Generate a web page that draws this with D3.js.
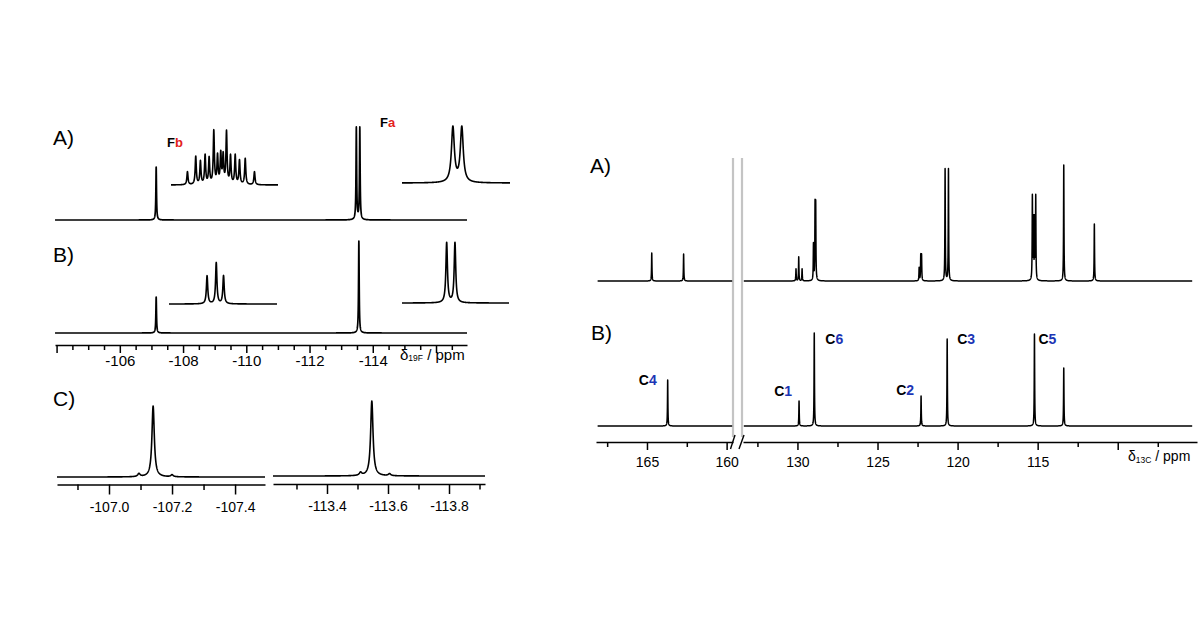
<!DOCTYPE html>
<html><head><meta charset="utf-8">
<script src="https://cdn.jsdelivr.net/npm/d3@7"></script>
<style>html,body{margin:0;padding:0;background:#fff}svg{display:block}</style>
</head><body><svg id="c" width="1200" height="630"></svg>
<script>
// ================= DATA =================
// --- 19F spectra (ppm, intensity a.u.) ---
const fA_ppm = [-107.15, -113.48, -113.59];
const fA_int = [53, 92, 92];
const fB_ppm = [-107.15, -113.56];
const fB_int = [36, 92];
const fMajorTicks = [-104, -106, -108, -110, -112, -114, -116];
const fMajorLabels = ["", "-106", "-108", "-110", "-112", "-114", ""];
const fMinorTicks = [-104.5, -105, -105.5, -106.5, -107, -107.5, -108.5, -109, -109.5, -110.5, -111, -111.5, -112.5, -113, -113.5, -114.5, -115, -115.5, -116.5];

// --- insets (offset in Hz, intensity a.u.) ---
const insFbA_hz  = [-24.7, -18.5, -15, -11.5, -8.5, -5, -2.2, 0.2, 2, 4.5, 7.5, 11, 14.2, 18.5, 25.4];
const insFbA_int = [13, 28, 23, 29, 26, 53, 28, 30, 28, 52, 28, 29, 24, 26, 13];
const insFaA_hz  = [-3.3, 3.3];
const insFaA_int = [55, 55];
const insFbB_hz  = [-6.8, 0, 5.4];
const insFbB_int = [28, 41, 28];
const insFaB_hz  = [-3.1, 3.1];
const insFaB_int = [60, 60];

// --- panel C (high resolution, ppm) ---
const cL_ppm = [-107.14, -107.095, -107.20];
const cL_int = [71, 3, 2];
const cR_ppm = [-113.547, -113.51, -113.605];
const cR_int = [75, 3, 2];
const cL_major = [-107.0, -107.2, -107.4];
const cL_labels = ["-107.0", "-107.2", "-107.4"];
const cL_minor = [-106.9, -107.1, -107.3];
const cR_major = [-113.4, -113.6, -113.8];
const cR_labels = ["-113.4", "-113.6", "-113.8"];
const cR_minor = [-113.3, -113.5, -113.7, -113.9];

// --- 13C spectra (ppm, intensity a.u.) ---
const cA_ppm = [164.7, 162.7, 130.09, 129.92, 129.71, 129.0, 128.9, 128.86, 122.4, 122.3, 122.25, 120.78, 120.57, 115.33, 115.26, 115.19, 115.12, 113.37, 111.46];
const cA_int = [28, 27, 12, 24, 12, 36, 72, 72, 13, 25, 25, 112, 112, 83, 59, 59, 83, 116, 57];
const cB_ppm = [163.7, 129.9, 128.95, 122.28, 120.65, 115.2, 113.37];
const cB_int = [46, 25, 93, 30, 87, 92, 58];
const cBLabelC   = ["C", "C", "C", "C", "C", "C"];
const cBLabelNum = ["4", "1", "6", "2", "3", "5"];
const cBLabelPeak = [163.7, 129.9, 128.95, 122.28, 120.65, 115.2];
const s1Major = [165, 160];
const s1Labels = ["165", "160"];
const s1Minor = [167.5, 162.5];
const s2Major = [130, 125, 120, 115, 110];
const s2Labels = ["130", "125", "120", "115", ""];
const s2Minor = [132.5, 127.5, 122.5, 117.5, 112.5, 107.5];
const panelLabels = ["A)", "B)", "C)"];

// ================= DRAWING =================
const FONT = "'Liberation Sans', Arial, Helvetica, sans-serif";
const RED = "#e3211c", BLUE = "#1c35b5";
const svg = d3.select("#c");
svg.append("rect").attr("width", 1200).attr("height", 630).attr("fill", "#fff");

function lor(x, x0, w) { const t = (x - x0) / w; return 1 / (1 + t * t); }
function pts(peaks, ints, w, lo, hi, step) {
  const xs = d3.range(lo, hi + step / 2, step);
  peaks.forEach(p => [-3, -2, -1, -0.5, -0.2, 0, 0.2, 0.5, 1, 2, 3].forEach(k => {
    const v = p + k * w; if (v >= lo && v <= hi) xs.push(v);
  }));
  xs.sort((a, b) => a - b);
  return xs.map(x => [x, d3.sum(peaks, (p, i) => ints[i] * lor(x, p, w))]);
}
function drawSpec(data, x, y, sw) {
  svg.append("path").datum(data)
    .attr("d", d3.line().x(d => x(d[0])).y(d => y(d[1])))
    .attr("fill", "none").attr("stroke", "#000").attr("stroke-width", sw)
    .attr("stroke-linejoin", "round");
}
function yS(base) { return d3.scaleLinear().domain([0, 100]).range([base, base - 100]); }
function axis(x, ty, majors, labels, minors, majLen, minLen, pad, fs, sw) {
  const g = svg.append("g").attr("transform", `translate(0,${ty})`)
    .call(d3.axisBottom(x).tickValues(majors).tickFormat((d, i) => labels[i])
      .tickSize(majLen).tickSizeOuter(0).tickPadding(pad));
  g.selectAll("text").attr("font-size", fs).attr("font-family", FONT).attr("fill", "#000");
  g.selectAll("line,path").attr("stroke", "#000").attr("stroke-width", sw);
  const m = svg.append("g").attr("transform", `translate(0,${ty})`)
    .call(d3.axisBottom(x).tickValues(minors).tickFormat("").tickSize(minLen).tickSizeOuter(0));
  m.select(".domain").remove();
  m.selectAll("line").attr("stroke", "#000").attr("stroke-width", sw);
}
function txt(x, y, s, fs, opts = {}) {
  return svg.append("text").attr("x", x).attr("y", y).text(s)
    .attr("font-family", FONT).attr("font-size", fs)
    .attr("font-weight", opts.bold ? "bold" : "normal")
    .attr("fill", opts.fill || "#000").attr("text-anchor", opts.anchor || "start");
}
function twoTone(x, y, a, b, colB, fs, anchor) {
  const t = svg.append("text").attr("x", x).attr("y", y)
    .attr("font-family", FONT).attr("font-size", fs).attr("font-weight", "bold")
    .attr("text-anchor", anchor || "start");
  t.append("tspan").text(a).attr("fill", "#000");
  t.append("tspan").text(b).attr("fill", colB);
}

// ---------- LEFT: 19F ----------
const xF = d3.scaleLinear().domain([-103.95, -116.98]).range([55, 467]);
const fLo = -116.98, fHi = -103.95;
drawSpec(pts(fA_ppm, fA_int, 0.012, fLo, fHi, 0.003), xF, yS(220), 1.7);
drawSpec(pts(fB_ppm, fB_int, 0.012, fLo, fHi, 0.003), xF, yS(333), 1.7);
axis(xF, 345, fMajorTicks, fMajorLabels, fMinorTicks, 8, 5, 2.4, 15, 1.5);
{
  const t = svg.append("text").attr("x", 400).attr("y", 359.5).attr("font-family", FONT).attr("font-size", 15).attr("fill", "#000");
  t.append("tspan").text("δ");
  t.append("tspan").text("19F").attr("font-size", 8.5).attr("dy", 1.5);
  t.append("tspan").text(" / ppm").attr("dy", -1.5);
}

// insets
const xFbA = d3.scaleLinear().domain([-37, 43]).range([171, 278]);
drawSpec(pts(insFbA_hz, insFbA_int, 0.5, -37, 43, 0.04), xFbA, yS(185), 1.6);
const xFaA = d3.scaleLinear().domain([-41, 39]).range([402, 510]);
drawSpec(pts(insFaA_hz, insFaA_int, 1.3, -41, 39, 0.04), xFaA, yS(183), 1.6);
const xFbB = d3.scaleLinear().domain([-35, 45]).range([169, 277]);
drawSpec(pts(insFbB_hz, insFbB_int, 0.6, -35, 45, 0.04), xFbB, yS(304), 1.6);
const xFaB = d3.scaleLinear().domain([-36.5, 43.5]).range([402, 509]);
drawSpec(pts(insFaB_hz, insFaB_int, 0.7, -36.5, 43.5, 0.04), xFaB, yS(303), 1.6);

twoTone(167, 147, "F", "b", RED, 13);
twoTone(380, 127, "F", "a", RED, 13);

txt(53, 145, panelLabels[0], 21);
txt(53, 262, panelLabels[1], 21);
txt(53, 406, panelLabels[2], 21);

// panel C
const xCL = d3.scaleLinear().domain([-106.835, -107.495]).range([57, 265]);
drawSpec(pts(cL_ppm, cL_int, 0.0045, -107.495, -106.835, 0.0005), xCL, yS(477), 1.6);
axis(xCL, 484.5, cL_major, cL_labels, cL_minor, 10, 5.5, 7.5, 14, 1.5);
const xCR = d3.scaleLinear().domain([-113.223, -113.918]).range([273, 485]);
drawSpec(pts(cR_ppm, cR_int, 0.0047, -113.918, -113.223, 0.0005), xCR, yS(476), 1.6);
axis(xCR, 484, cR_major, cR_labels, cR_minor, 10, 5.5, 7.5, 14, 1.5);

// ---------- RIGHT: 13C ----------
const xS1 = d3.scaleLinear().domain([168.2, 159.6]).range([596, 733]);
const xS2 = d3.scaleLinear().domain([133.4, 105.05]).range([743, 1197]);

// gray break lines
[xS1.range()[1], xS2.range()[0] - 1].forEach(gx => {
  svg.append("line").attr("x1", gx).attr("x2", gx).attr("y1", 158).attr("y2", 437)
    .attr("stroke", "#c4c4c4").attr("stroke-width", 2.2);
});

const yRA = yS(281), yRB = yS(426);
drawSpec(pts(cA_ppm, cA_int, 0.015, 159.65, 168.1, 0.004), xS1, yRA, 1.5);
drawSpec(pts(cA_ppm, cA_int, 0.015, 105.35, 133.35, 0.004), xS2, yRA, 1.5);
drawSpec(pts(cB_ppm, cB_int, 0.015, 159.65, 168.1, 0.004), xS1, yRB, 1.5);
drawSpec(pts(cB_ppm, cB_int, 0.015, 105.35, 133.35, 0.004), xS2, yRB, 1.5);

axis(xS1, 442, s1Major, s1Labels, s1Minor, 8, 5, 7.4, 14, 1.5);
axis(xS2, 442, s2Major, s2Labels, s2Minor, 8, 5, 7.4, 14, 1.5);
// break marks
[[730.5, 735], [739, 744]].forEach(([a, b]) => {
  svg.append("line").attr("x1", a).attr("y1", 449).attr("x2", b).attr("y2", 435)
    .attr("stroke", "#000").attr("stroke-width", 1.4);
});

{
  const t = svg.append("text").attr("x", 1128).attr("y", 461).attr("font-family", FONT).attr("font-size", 14).attr("fill", "#000");
  t.append("tspan").text("δ");
  t.append("tspan").text("13C").attr("font-size", 8.5).attr("dy", 1.5);
  t.append("tspan").text(" / ppm").attr("dy", -1.5);
}

txt(590, 173, panelLabels[0], 21);
txt(591, 340, panelLabels[1], 21);

// peak assignment labels (layout: side, dx, baseline y)
const labLayout = [
  { anchor: "end", dx: -11, y: 385 },
  { anchor: "end", dx: -7, y: 396 },
  { anchor: "start", dx: 11, y: 344 },
  { anchor: "end", dx: -7, y: 395 },
  { anchor: "start", dx: 10, y: 344 },
  { anchor: "start", dx: 4, y: 344 }
];
cBLabelPeak.forEach((p, i) => {
  const sx = p > 150 ? xS1(p) : xS2(p);
  const L = labLayout[i];
  twoTone(sx + L.dx, L.y, cBLabelC[i], cBLabelNum[i], BLUE, 14, L.anchor);
});
</script>
</body></html>
